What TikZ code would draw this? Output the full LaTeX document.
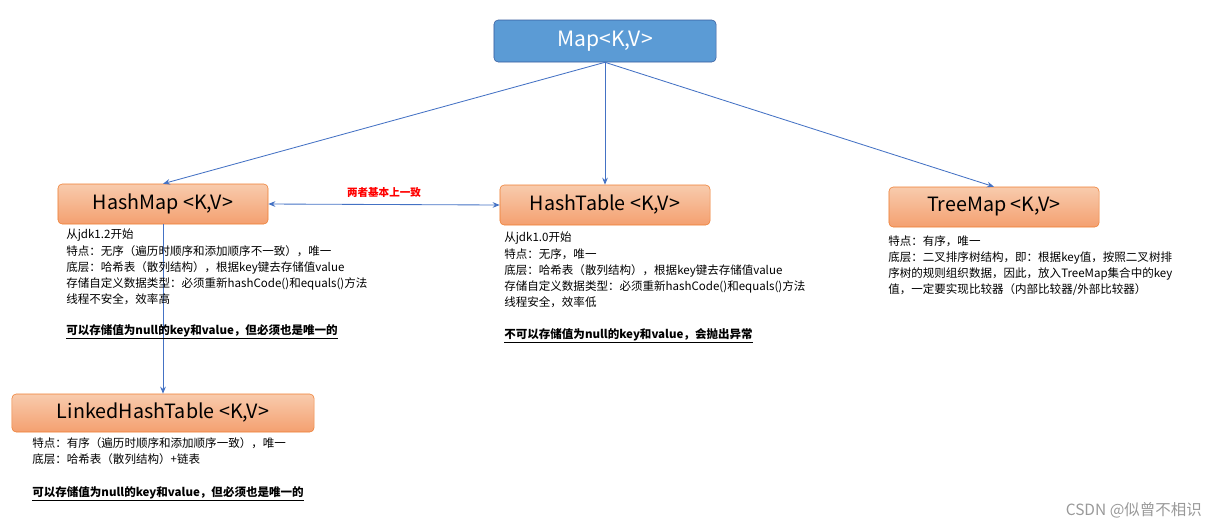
\documentclass[tikz,border=0pt]{standalone}
\usepackage{fontspec}
\setmainfont{Noto Sans CJK SC}
\usetikzlibrary{arrows.meta}
\definecolor{mblue}{HTML}{5B9BD5}
\definecolor{oborder}{HTML}{ED7D31}
\definecolor{otop}{HTML}{F8CBAD}
\definecolor{obot}{HTML}{F4A070}
\definecolor{lblue}{HTML}{4472C4}
\begin{document}
\begin{tikzpicture}[x=0.025cm,y=-0.025cm,
  mapbox/.style={draw=lblue!80!black,fill=mblue,rounded corners=3pt,text=white,font=\fontsize{15}{18}\selectfont,minimum height=1.05cm,inner sep=0pt},
  obox/.style={draw=oborder,top color=otop,bottom color=obot,rounded corners=3pt,font=\fontsize{14}{17}\selectfont,minimum height=1cm,inner sep=0pt},
  arr/.style={draw=lblue,-{Stealth[length=5pt,width=4pt]},line width=0.6pt},
  body/.style={anchor=north west,align=left,font=\fontsize{8.2}{11.4}\selectfont,inner sep=0pt},
  boldu/.style={anchor=north west,inner sep=0pt,font=\fontsize{8.2}{11.4}\selectfont\bfseries}]
\useasboundingbox (0,0) rectangle (1217,529);
\node[mapbox,minimum width=5.55cm] (map) at (605,41) {Map<K,V>};
\node[obox,minimum width=5.25cm] (hm) at (163,204) {HashMap <K,V>};
\node[obox,minimum width=5.25cm] (ht) at (605,205) {HashTable <K,V>};
\node[obox,minimum width=5.25cm] (tm) at (994,207) {TreeMap <K,V>};
\node[obox,minimum width=7.55cm,minimum height=0.95cm] (lh) at (163,413) {LinkedHashTable <K,V>};
\draw[arr] (map.south) -- (hm.north);
\draw[arr] (map.south) -- (ht.north);
\draw[arr] (map.south) -- (tm.north);
\draw[arr,{Stealth[length=5pt,width=4pt]}-{Stealth[length=5pt,width=4pt]}] (hm.east) -- node[above=1pt,text=red,font=\fontsize{7.5}{9}\selectfont\bfseries] (lab) {两者基本上一致} (ht.west);
\draw[arr] (hm.south) -- (lh.north);
\node[body] (t1) at (66,229) {从jdk1.2开始\\特点：无序（遍历时顺序和添加顺序不一致），唯一\\底层：哈希表（散列结构），根据key键去存储值value\\存储自定义数据类型：必须重新hashCode()和equals()方法\\线程不安全，效率高};
\node[boldu] (b1) at (66,324) {\underline{可以存储值为null的key和value，但必须也是唯一的}};
\node[body] (t2) at (504,232) {从jdk1.0开始\\特点：无序，唯一\\底层：哈希表（散列结构），根据key键去存储值value\\存储自定义数据类型：必须重新hashCode()和equals()方法\\线程安全，效率低};
\node[boldu] (b2) at (504,328) {\underline{不可以存储值为null的key和value，会抛出异常}};
\node[body] (t3) at (888,235) {特点：有序，唯一\\底层：二叉排序树结构，即：根据key值，按照二叉树排\\序树的规则组织数据，因此，放入TreeMap集合中的key\\值，一定要实现比较器（内部比较器/外部比较器）};
\node[body] (t4) at (32,437) {特点：有序（遍历时顺序和添加顺序一致），唯一\\底层：哈希表（散列结构）+链表};
\node[boldu] (b4) at (32,486) {\underline{可以存储值为null的key和value，但必须也是唯一的}};
\node[anchor=east,text=gray!80,font=\fontsize{11}{13}\selectfont,inner sep=0pt] (wm) at (1202,510) {CSDN @似曾不相识};
\end{tikzpicture}
\end{document}
